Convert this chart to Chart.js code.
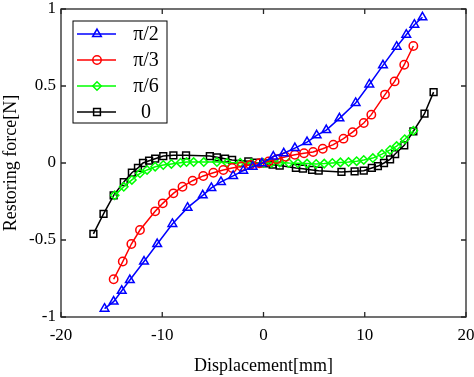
<!DOCTYPE html>
<html>
<head>
<meta charset="utf-8">
<script src="https://cdn.jsdelivr.net/npm/chart.js@4.4.1/dist/chart.umd.min.js"></script>
<style>
  html, body { margin: 0; padding: 0; background: #fff; }
  #wrap { width: 474px; height: 377px; }
</style>
</head>
<body>
<div id="wrap"><canvas id="myChart" width="474" height="377"></canvas></div>
<script>
// data
var seriesNames = ['π/2', 'π/3', 'π/6', '0'];

var xHalfPi = [-15.7, -14.8, -14.0, -13.2, -11.8, -10.5, -9.0, -7.5, -6.0, -5.15, -4.2, -3.0, -2.0, -1.07, -0.15, 0.97, 2.0, 3.1, 4.3, 5.25, 6.2, 7.5, 9.1, 10.45, 11.8, 13.15, 14.1, 14.9, 15.7];
var yHalfPi = [-0.946, -0.90, -0.83, -0.76, -0.64, -0.526, -0.396, -0.29, -0.21, -0.162, -0.123, -0.084, -0.05, -0.024, -0.002, 0.042, 0.063, 0.097, 0.136, 0.18, 0.214, 0.29, 0.39, 0.51, 0.634, 0.755, 0.833, 0.898, 0.946];

var xThirdPi = [-14.8, -13.9, -13.05, -12.2, -10.7, -9.95, -8.9, -8.0, -7.0, -5.95, -4.95, -3.97, -3.1, -2.2, -1.3, -0.4, 0.5, 1.3, 2.2, 3.1, 4.0, 4.9, 5.85, 6.9, 7.9, 8.8, 9.9, 10.65, 12.0, 12.95, 13.9, 14.8];
var yThirdPi = [-0.755, -0.64, -0.526, -0.435, -0.314, -0.262, -0.197, -0.154, -0.115, -0.084, -0.063, -0.045, -0.032, -0.022, -0.012, -0.002, 0.01, 0.025, 0.041, 0.054, 0.063, 0.071, 0.093, 0.119, 0.158, 0.2, 0.26, 0.314, 0.444, 0.53, 0.638, 0.76];

var xSixthPi = [-14.7, -13.8, -13.0, -12.2, -11.5, -10.7, -9.9, -9.1, -8.2, -7.6, -6.9, -5.9, -4.6, -3.6, -2.3, -1.2, 0.0, 0.8, 1.6, 2.5, 3.4, 4.3, 5.2, 6.0, 6.8, 7.6, 8.4, 9.2, 9.9, 10.8, 11.7, 12.5, 13.15, 13.95, 14.8];
var ySixthPi = [-0.21, -0.154, -0.11, -0.067, -0.045, -0.024, -0.013, -0.006, 0.002, 0.006, 0.006, 0.006, 0.006, 0.002, 0.002, -0.002, 0.0, 0.002, 0.004, 0.0, -0.002, -0.004, -0.006, -0.004, 0.0, 0.004, 0.006, 0.012, 0.02, 0.032, 0.058, 0.085, 0.11, 0.154, 0.21];

var xZero = [-16.8, -15.8, -14.8, -13.8, -13.0, -12.4, -11.9, -11.3, -10.7, -9.9, -8.9, -7.65, -5.3, -4.6, -3.8, -3.1, -1.5, -0.7, 0.1, 0.9, 1.6, 3.2, 3.9, 4.8, 5.45, 7.7, 9.0, 9.9, 10.7, 11.3, 11.9, 12.5, 13.0, 13.9, 14.8, 15.9, 16.8];
var yZero = [-0.46, -0.33, -0.21, -0.124, -0.063, -0.032, 0.0, 0.015, 0.028, 0.045, 0.05, 0.05, 0.045, 0.037, 0.028, 0.02, 0.011, 0.002, -0.002, -0.011, -0.017, -0.032, -0.037, -0.045, -0.05, -0.058, -0.054, -0.05, -0.032, -0.02, 0.0, 0.024, 0.058, 0.115, 0.206, 0.32, 0.46];

var xTicks = [-20, -10, 0, 10, 20];
var yTicks = [-1, -0.5, 0, 0.5, 1];

function toPoints(xs, ys) {
  return xs.map(function(x, i){ return {x: x, y: ys[i]}; });
}

function makeSet(label, xs, ys, color, style, r) {
  return {
    label: label,
    data: toPoints(xs, ys),
    borderColor: color,
    backgroundColor: 'rgba(0,0,0,0)',
    borderWidth: 1.5,
    pointStyle: style,
    pointRadius: r,
    pointBorderWidth: 1.5,
    pointBorderColor: color,
    pointBackgroundColor: 'rgba(0,0,0,0)',
    showLine: true,
    tension: 0
  };
}

var serif = "'Liberation Serif', 'DejaVu Serif', serif";

// box, inward ticks and legend, MATLAB style
var boxPlugin = {
  id: 'boxPlugin',
  afterDatasetsDraw: function(chart) {
    var ctx = chart.ctx;
    var a = chart.chartArea;
    var sx = chart.scales.x, sy = chart.scales.y;
    ctx.save();
    ctx.strokeStyle = '#262626';
    ctx.lineWidth = 1.3;
    ctx.strokeRect(a.left, a.top, a.right - a.left, a.bottom - a.top);
    ctx.beginPath();
    xTicks.forEach(function(v){
      var px = sx.getPixelForValue(v);
      ctx.moveTo(px, a.bottom); ctx.lineTo(px, a.bottom - 5);
      ctx.moveTo(px, a.top); ctx.lineTo(px, a.top + 5);
    });
    yTicks.forEach(function(v){
      var py = sy.getPixelForValue(v);
      ctx.moveTo(a.left, py); ctx.lineTo(a.left + 5, py);
      ctx.moveTo(a.right, py); ctx.lineTo(a.right - 5, py);
    });
    ctx.stroke();

    // legend
    var lx = 73, ly = 21, lw = 94, lh = 102;
    ctx.fillStyle = '#fff';
    ctx.fillRect(lx, ly, lw, lh);
    ctx.strokeStyle = '#000';
    ctx.lineWidth = 1;
    ctx.strokeRect(lx, ly, lw, lh);
    var rows = [34, 60, 86, 112];
    chart.data.datasets.forEach(function(ds, i){
      var y = rows[i];
      ctx.strokeStyle = ds.borderColor;
      ctx.lineWidth = 1.5;
      ctx.beginPath();
      ctx.moveTo(77, y); ctx.lineTo(116, y);
      ctx.stroke();
      ctx.fillStyle = 'rgba(0,0,0,0)';
      Chart.helpers.drawPoint(ctx, {pointStyle: ds.pointStyle, radius: ds.pointRadius, rotation: 0, borderWidth: 1.5}, 97, y);
      ctx.fillStyle = '#000';
      ctx.font = '20px ' + serif;
      ctx.textAlign = 'center';
      ctx.textBaseline = 'middle';
      ctx.fillText(ds.label, 146, y + 1);
    });
    ctx.restore();
  }
};

var ctx = document.getElementById('myChart');
var myChart = new Chart(ctx, {
  type: 'scatter',
  data: {
    datasets: [
      makeSet(seriesNames[0], xHalfPi, yHalfPi, '#0000ff', 'triangle', 5),
      makeSet(seriesNames[1], xThirdPi, yThirdPi, '#ff0000', 'circle', 4.2),
      makeSet(seriesNames[2], xSixthPi, ySixthPi, '#00ff00', 'rectRot', 4.2),
      makeSet(seriesNames[3], xZero, yZero, '#000000', 'rect', 4.8)
    ]
  },
  options: {
    responsive: false,
    animation: false,
    devicePixelRatio: 1,
    layout: {
      padding: { left: 0, right: 8, top: 9, bottom: 0 }
    },
    plugins: {
      legend: { display: false },
      tooltip: { enabled: false }
    },
    scales: {
      x: {
        type: 'linear',
        min: -20,
        max: 20,
        border: { display: false },
        grid: { display: false, drawTicks: false },
        afterFit: function(scale) {
          scale.height = 60;
          scale.paddingLeft = 0;
          scale.paddingRight = 0;
        },
        afterBuildTicks: function(scale) {
          scale.ticks = xTicks.map(function(v){ return {value: v}; });
        },
        ticks: {
          padding: 8,
          color: '#000',
          font: { family: serif, size: 17 },
          callback: function(v) { return String(v); }
        },
        title: {
          display: true,
          text: 'Displacement[mm]',
          color: '#000',
          padding: 0,
          font: { family: serif, size: 18 }
        }
      },
      y: {
        type: 'linear',
        min: -1,
        max: 1,
        border: { display: false },
        grid: { display: false, drawTicks: false },
        afterFit: function(scale) {
          scale.width = 61;
          scale.paddingTop = 0;
          scale.paddingBottom = 0;
        },
        afterBuildTicks: function(scale) {
          scale.ticks = yTicks.map(function(v){ return {value: v}; });
        },
        ticks: {
          padding: 5,
          color: '#000',
          font: { family: serif, size: 17 },
          callback: function(v) { return String(v); }
        },
        title: {
          display: true,
          text: 'Restoring force[N]',
          color: '#000',
          padding: 0,
          font: { family: serif, size: 18 }
        }
      }
    }
  },
  plugins: [boxPlugin]
});
</script>
</body>
</html>
